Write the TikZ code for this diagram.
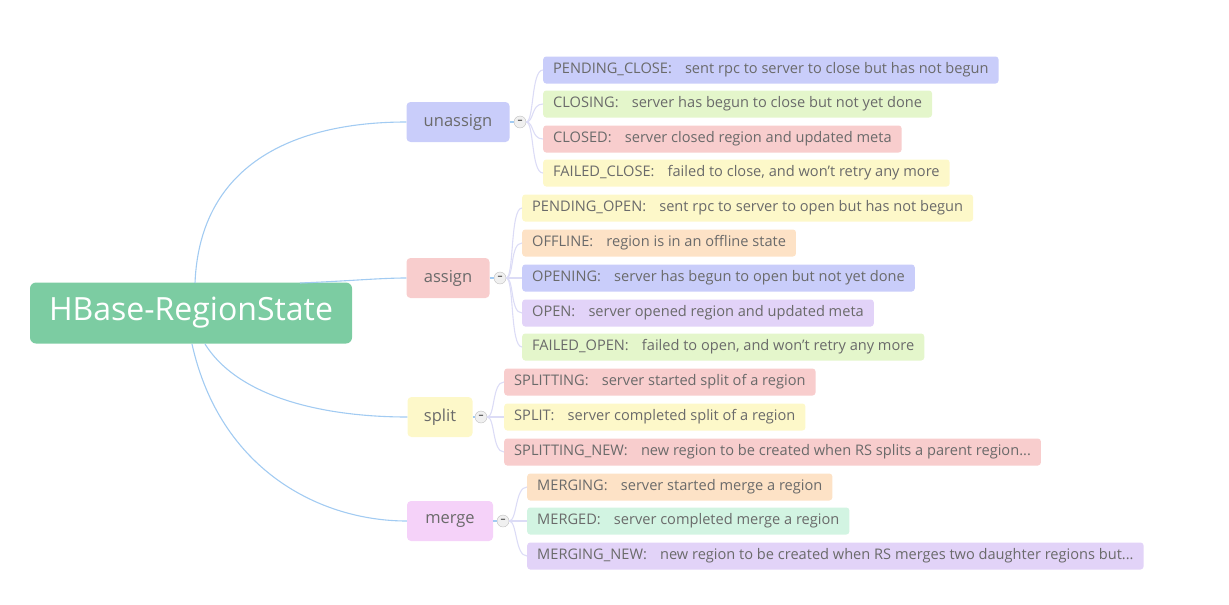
\documentclass[tikz,border=0pt]{standalone}
\usepackage{fontspec}
\setmainfont{Open Sans}
\definecolor{cblue}{HTML}{C9CDFA}
\definecolor{cgreen}{HTML}{E4F6CB}
\definecolor{cred}{HTML}{F8CDCD}
\definecolor{cyellow}{HTML}{FDF8C9}
\definecolor{corange}{HTML}{FDE2C6}
\definecolor{cpurple}{HTML}{E2D3F8}
\definecolor{cmint}{HTML}{D2F4E2}
\definecolor{cpink}{HTML}{F5D2F9}
\definecolor{croot}{HTML}{7CCCA2}
\definecolor{ctext}{HTML}{6A6A6A}
\definecolor{cline}{HTML}{A2CBF2}
\definecolor{cleaf}{HTML}{DCDCF6}
\newcommand{\cl}{:\hskip 0.9em}
\begin{document}
\begin{tikzpicture}[x=1pt,y=-1pt,
  leaf/.style={anchor=west,fill=#1,rounded corners=3pt,minimum height=27pt,inner xsep=10pt,text=ctext,font=\fontsize{14.6}{15}\selectfont},
  branch/.style={fill=#1,rounded corners=4pt,minimum height=40pt,inner xsep=12pt,text=ctext,font=\fontsize{16.5}{17}\selectfont},
  knob/.style={circle,draw=gray!50,fill=gray!12,inner sep=0pt,minimum size=12pt,font=\fontsize{10}{10}\selectfont\bfseries,text=ctext!80!black},
  conn/.style={draw=cline,line width=1.1pt},
  lconn/.style={draw=cleaf,line width=1.1pt}]
\useasboundingbox (0,0) rectangle (1229,605);
\node[fill=croot,rounded corners=6pt,minimum width=322pt,minimum height=61pt,text=white,font=\fontsize{32}{33}\selectfont] (root) at (191,313) {HBase-RegionState};
\node[branch=cblue,minimum width=103pt] (un) at (458,122) {unassign};
\node[branch=cred,minimum width=83pt] (as) at (448,278) {assign};
\node[branch=cyellow,minimum width=65pt] (sp) at (440,417) {split};
\node[branch=cpink,minimum width=86pt] (me) at (450,521) {merge};
\coordinate (r1) at (195,283);
\coordinate (r2) at (300,283);
\coordinate (r3) at (205,344);
\coordinate (r4) at (192,344);
\draw[conn] (r1) .. controls (200,160) and (300,122) .. (un.west);
\draw[conn] (r2) .. controls (350,281) and (380,278) .. (as.west);
\draw[conn] (r3) .. controls (240,400) and (330,417) .. (sp.west);
\draw[conn] (r4) .. controls (220,470) and (320,521) .. (me.west);
\node[knob] (k1) at (520,122) {--};
\node[knob] (k2) at (500,278) {--};
\node[knob] (k3) at (481,417) {--};
\node[knob] (k4) at (503,521) {--};
\draw[conn] (un.east) -- (k1.west);
\draw[conn] (as.east) -- (k2.west);
\draw[conn] (sp.east) -- (k3.west);
\draw[conn] (me.east) -- (k4.west);
% leaves
\node[leaf=cblue] (a1) at (543,70) {PENDING\_CLOSE\cl sent rpc to server to close but has not begun};
\node[leaf=cgreen] (a2) at (543,104) {CLOSING\cl server has begun to close but not yet done};
\node[leaf=cred] (a3) at (543,139) {CLOSED\cl server closed region and updated meta};
\node[leaf=cyellow] (a4) at (543,173) {FAILED\_CLOSE\cl failed to close, and won't retry any more};
\node[leaf=cyellow] (b1) at (522,208) {PENDING\_OPEN\cl sent rpc to server to open but has not begun};
\node[leaf=corange] (b2) at (522,243) {OFFLINE\cl region is in an offline state};
\node[leaf=cblue] (b3) at (522,278) {OPENING\cl server has begun to open but not yet done};
\node[leaf=cpurple] (b4) at (522,313) {OPEN\cl server opened region and updated meta};
\node[leaf=cgreen] (b5) at (522,347) {FAILED\_OPEN\cl failed to open, and won't retry any more};
\node[leaf=cred] (c1) at (504,382) {SPLITTING\cl server started split of a region};
\node[leaf=cyellow] (c2) at (504,417) {SPLIT\cl server completed split of a region};
\node[leaf=cred] (c3) at (504,452) {SPLITTING\_NEW\cl new region to be created when RS splits a parent region...};
\node[leaf=corange] (d1) at (527,487) {MERGING\cl server started merge a region};
\node[leaf=cmint] (d2) at (527,521) {MERGED\cl server completed merge a region};
\node[leaf=cpurple] (d3) at (527,556) {MERGING\_NEW\cl new region to be created when RS merges two daughter regions but...};
\foreach \k/\l in {k1/a1,k1/a2,k1/a3,k1/a4,k2/b1,k2/b2,k2/b3,k2/b4,k2/b5,k3/c1,k3/c2,k3/c3,k4/d1,k4/d2,k4/d3}{
  \draw[lconn] (\k.east) .. controls ([xshift=8pt]\k.east) and ([xshift=-12pt]\l.west) .. (\l.west);
}
\end{tikzpicture}
\end{document}
